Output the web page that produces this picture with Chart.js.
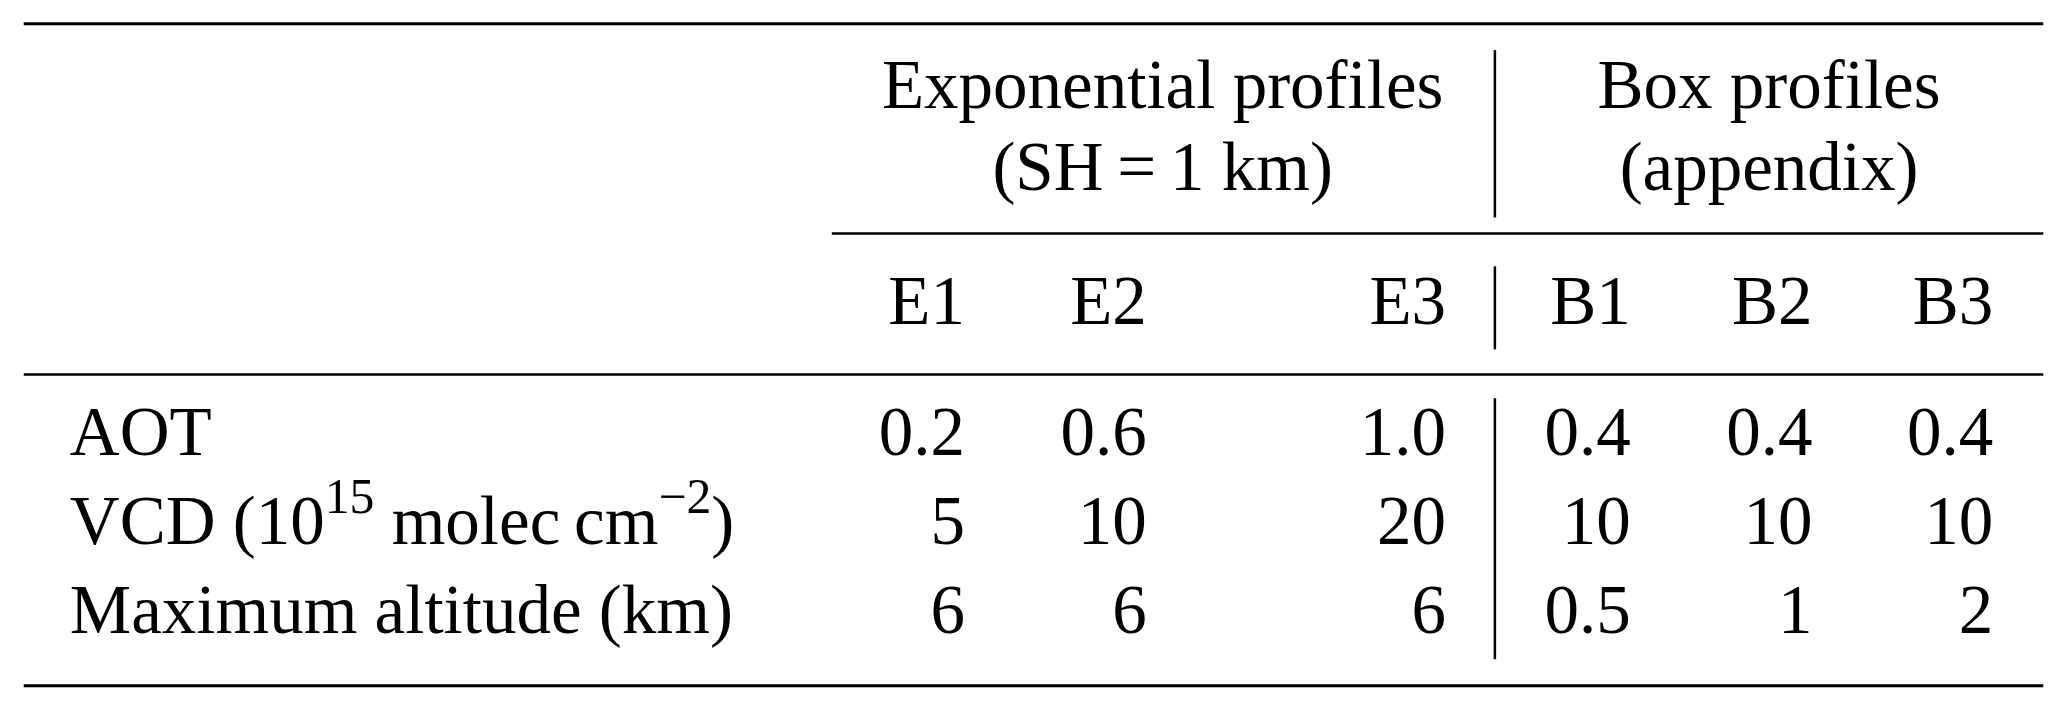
<!DOCTYPE html>
<html><head><meta charset="utf-8">
<script src="https://cdn.jsdelivr.net/npm/chart.js@4"></script>
<style>html,body{margin:0;padding:0;background:#fff}#w{width:2067px;height:712px}</style>
</head><body><div id="w"><canvas id="c"></canvas></div>
<script>
const groupTitles = [["Exponential profiles","(SH\u2009=\u20091 km)"],["Box profiles","(appendix)"]];
const columns = ["E1","E2","E3","B1","B2","B3"];
const rowLabels = ["AOT","VCD","Maximum altitude (km)"];
const aot = ["0.2","0.6","1.0","0.4","0.4","0.4"];
const vcd = ["5","10","20","10","10","10"];
const maxAlt = ["6","6","6","0.5","1","2"];
const rows = [aot, vcd, maxAlt];

const colRight = [732, 870, 1097, 1237, 1375, 1512];
const rowY = [331, 399, 466];
const FS = 69;
const font = (s)=> s+"px 'Liberation Serif', 'DejaVu Serif', serif";

const tablePlugin = {
  id:'table',
  afterDraw(chart){
    const ctx = chart.ctx, xs = chart.scales.x, ys = chart.scales.y;
    const X = v=>xs.getPixelForValue(v), Y = v=>ys.getPixelForValue(v);
    ctx.save();
    ctx.strokeStyle='#000'; ctx.fillStyle='#000';
    const hline=(x1,x2,y,w)=>{ctx.lineWidth=w;ctx.beginPath();ctx.moveTo(X(x1),Y(y));ctx.lineTo(X(x2),Y(y));ctx.stroke();};
    const vline=(x,y1,y2)=>{ctx.lineWidth=2.5;ctx.beginPath();ctx.moveTo(X(x),Y(y1));ctx.lineTo(X(x),Y(y2));ctx.stroke();};
    hline(18,1550,18,3); hline(631,1550,177,2.5); hline(18,1550,284,2.5); hline(18,1550,520,3);
    vline(1134,38,165); vline(1134,202,265); vline(1134,302,500);
    ctx.textBaseline='middle'; ctx.font=font(FS);
    ctx.textAlign='center';
    [[882],[1342]].forEach((c,i)=>{
      ctx.fillText(groupTitles[i][0],X(c[0]),Y(68));
      ctx.fillText(groupTitles[i][1],X(c[0]),Y(130));
    });
    ctx.textAlign='right';
    columns.forEach((c,i)=>ctx.fillText(c,X(colRight[i]),Y(232)));
    rows.forEach((r,ri)=>r.forEach((v,i)=>ctx.fillText(v,X(colRight[i]),Y(rowY[ri]))));
    ctx.textAlign='left';
    ctx.fillText(rowLabels[0],X(53),Y(rowY[0]));
    ctx.fillText(rowLabels[2],X(53),Y(rowY[2]));
    let x=X(53); const y=Y(rowY[1]);
    const part=(t,sup)=>{ctx.font=font(sup?FS*0.72:FS);ctx.fillText(t,x,sup?y-FS*0.38:y);x+=ctx.measureText(t).width;};
    part("VCD (10"); part("15",true); part(" molec\u2009cm"); part("\u22122",true); part(")");
    ctx.restore();
  }
};

new Chart(document.getElementById('c'),{
  type:'scatter',
  data:{datasets:[{data:[],pointRadius:0}]},
  options:{responsive:true,maintainAspectRatio:false,animation:false,
    layout:{padding:0},
    plugins:{legend:{display:false},tooltip:{enabled:false}},
    scales:{x:{type:'linear',min:0,max:1568,display:false},
            y:{type:'linear',min:0,max:540,reverse:true,display:false}}},
  plugins:[tablePlugin]
});
</script></body></html>
